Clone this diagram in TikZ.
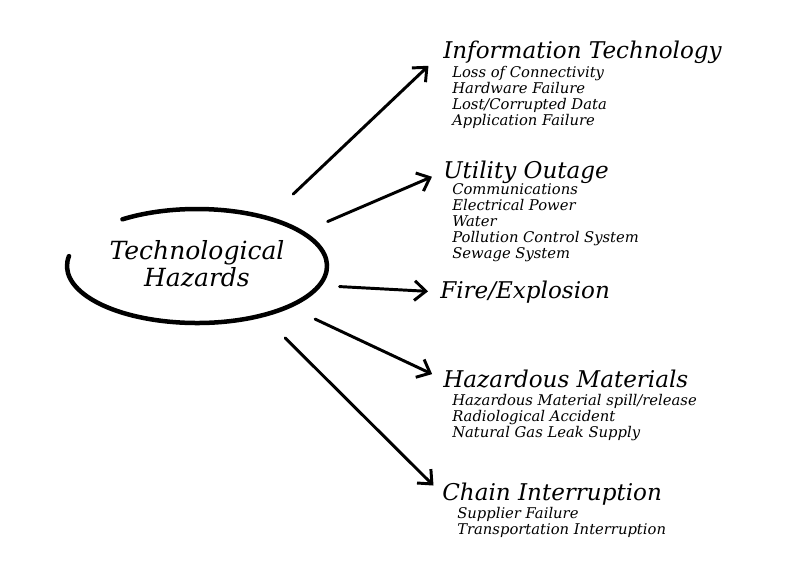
\documentclass[tikz,border=0pt]{standalone}
\usepackage{fontspec}
\setmainfont{DejaVu Serif}
\usepackage{tikz}
\usetikzlibrary{arrows.meta,shapes.geometric}

\begin{document}
\begin{tikzpicture}[font=\itshape,
                    head/.style={anchor=west, inner sep=0pt, font=\itshape\fontsize{16.4}{19}\selectfont},
                    items/.style={anchor=north west, inner sep=0pt, align=left, font=\itshape\fontsize{10.5}{11.4}\selectfont},
                    arr/.style={line width=2.1pt, line cap=round, -{Straight Barb[length=8pt,width=14pt,line width=2.1pt]}, shorten >=3mm}]
                    \useasboundingbox (0,0) rectangle (20,-14.625);
                    % centre
                    \node[ellipse, minimum width=7.35cm, minimum height=4.625cm, outer sep=0pt, align=center,
                          font=\itshape\fontsize{17.8}{19.5}\selectfont] (hz) at (4.925,-6.6) {Technological\\Hazards};
                    \draw[line width=3.2pt, line cap=round] (4.925,-6.65) ++(125:3.25cm and 1.425cm)
                        arc[start angle=125, end angle=-190, x radius=3.25cm, y radius=1.425cm];

                    % headings
                    \node[head] (it) at (11.075,-1.3)  {Information Technology};
                    \node[head] (uo) at (11.075,-4.3)  {Utility Outage};
                    \node[head] (fe) at (11.0,-7.3)    {Fire/Explosion};
                    \node[head] (hm) at (11.075,-9.48) {Hazardous Materials};
                    \node[head] (ci) at (11.05,-12.35) {Chain Interruption};

                    % lists
                    \node[items] (itl) at (11.3,-1.64)  {Loss of Connectivity\\Hardware Failure\\Lost/Corrupted Data\\Application Failure};
                    \node[items] (uol) at (11.3,-4.59)   {Communications\\Electrical Power\\Water\\Pollution Control System\\Sewage System};
                    \node[items] (hml) at (11.3,-9.86)   {Hazardous Material spill/release\\Radiological Accident\\Natural Gas Leak Supply};
                    \node[items] (cil) at (11.425,-12.68) {Supplier Failure\\Transportation Interruption};

                    \draw[arr, shorten >=5mm] (hz.36) -- (it.west);
                    \draw[arr] (hz.18) -- (uo.west);
                    \draw[arr] (hz.-9) -- (fe.west);
                    \draw[arr] (hz.-25) -- (hm.west);
                    \draw[arr] (hz.-40) -- (ci.west);
                \end{tikzpicture}
\end{document}
